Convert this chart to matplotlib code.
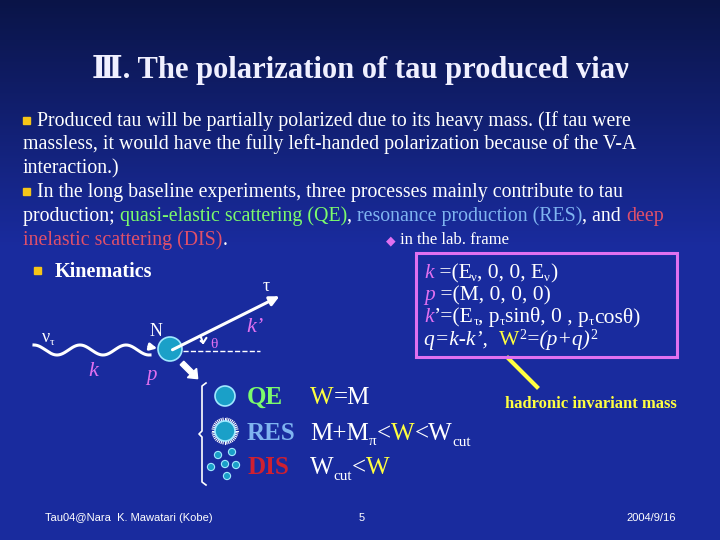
import matplotlib
matplotlib.use("Agg")
import matplotlib.pyplot as plt
import numpy as np
from matplotlib.patches import Circle, Rectangle, FancyArrow

plt.rcParams['font.family'] = ['Liberation Serif', 'DejaVu Serif']

W, H = 720, 540
fig = plt.figure(figsize=(7.2, 5.4), dpi=100)
ax = fig.add_axes([0, 0, 1, 1])
ax.set_xlim(0, W); ax.set_ylim(H, 0); ax.axis('off')

grad = np.linspace(0, 1, 256)[:, None]
top = np.array([0.04, 0.08, 0.28]); bot = np.array([0.10, 0.17, 0.62])
img = top + (bot - top) * np.clip(grad * 2.2, 0, 1)[:, :, None]
img = np.repeat(img, 2, axis=1)
ax.imshow(img, extent=[0, W, H, 0], aspect='auto', zorder=0)

r = fig.canvas.get_renderer()
WH = 'white'; GR = '#7CFC6C'; LB = '#7FB4F0'; RD = '#E0506A'; YL = '#FFFF40'; MG = '#E070F0'

def seq(x, y, segs, size, weight='normal'):
    for s in segs:
        txt, col = s[0], s[1]
        fs = s[2] if len(s) > 2 else 1.0
        dy = s[3] if len(s) > 3 else 0
        st = s[4] if len(s) > 4 else 'normal'
        t = ax.text(x, y + dy, txt, color=col, fontsize=size * fs, va='baseline',
                    ha='left', weight=weight, style=st, zorder=5)
        x += t.get_window_extent(renderer=r).width
    return x

def bullet(x, y, col='#F5C518', s=7):
    ax.add_patch(Rectangle((x, y - s - 2), s, s, color=col, zorder=5))

ax.text(360, 78, 'Ⅲ. The polarization of tau produced via\u03bd', color='#F0F0FF',
        fontsize=22, weight='bold', ha='center', va='baseline', zorder=5)

fs = 14.3
bullet(23, 126)
seq(37, 126, [('Produced tau will be partially polarized due to its heavy mass. (If tau were', WH)], fs)
seq(23, 149, [('massless, it would have the fully left-handed polarization because of the V-A', WH)], fs)
seq(23, 173, [('interaction.)', WH)], fs)
bullet(23, 197)
seq(37, 197, [('In the long baseline experiments, three processes mainly contribute to tau', WH)], fs)
seq(23, 221, [('production; ', WH), ('quasi-elastic scattering (QE)', GR), (', ', WH),
              ('resonance production (RES)', LB), (', and ', WH), ('deep', RD)], fs)
seq(23, 245, [('inelastic scattering (DIS)', RD), ('.', WH)], fs)
ax.text(386, 244, '\u25c6', color=MG, fontsize=9, va='baseline', family='DejaVu Sans', zorder=5)
seq(400, 244, [('in the lab. frame', WH)], 12)

bullet(34, 276)
seq(55, 277, [('Kinematics', WH)], 14.5, weight='bold')

ax.add_patch(Rectangle((416, 253), 261, 104, fill=False, ec=MG, lw=2.2, zorder=4))
fb = 15.5
seq(424, 278, [('k', MG, 1, 0, 'italic'), (' =(E', WH), ('\u03bd', WH, .6, 3), (', 0, 0, E', WH), ('\u03bd', WH, .6, 3), (')', WH)], fb)
seq(424, 300, [('p', MG, 1, 0, 'italic'), (' =(M, 0, 0, 0)', WH)], fb)
seq(424, 322, [('k', MG, 1, 0, 'italic'), ('\u2019=(E', WH), ('\u03c4', WH, .6, 3), (', p', WH), ('\u03c4', WH, .6, 3),
               ('sin\u03b8, 0 , p', WH), ('\u03c4', WH, .6, 3), ('cos\u03b8)', WH)], fb)
seq(424, 345, [('q=k-k\u2019,  ', WH, 1, 0, 'italic'), ('W', YL), ('2', WH, .65, -6), ('=(p+q)', WH, 1, 0, 'italic'), ('2', WH, .65, -6)], fb)

xs = np.linspace(34, 150, 300)
ys = 350 - 5 * np.cos((xs - 34) / 46.0 * 2 * np.pi)
ax.plot(xs, ys, color=WH, lw=2.2, zorder=5)
ax.annotate('', xy=(160, 349), xytext=(146, 346),
            arrowprops=dict(arrowstyle='-|>', color=WH, lw=2), zorder=5)
ax.add_patch(Circle((170, 349), 12, fc='#1AA0C8', ec='#A0E8FF', lw=1.2, zorder=5))
ax.plot([183, 260], [351, 351], color=WH, lw=1, ls='--', zorder=5)
ax.annotate('', xy=(282, 295), xytext=(170, 351),
            arrowprops=dict(arrowstyle='-|>', color=WH, lw=2.2, mutation_scale=14), zorder=6)
ax.text(42, 342, '\u03bd', color=WH, fontsize=13, zorder=5)
ax.text(50, 345, '\u03c4', color=WH, fontsize=8, zorder=5)
ax.text(150, 336, 'N', color=WH, fontsize=13, zorder=5)
ax.text(263, 291, '\u03c4', color=WH, fontsize=13, zorder=5)
ax.text(246, 332, 'k\u2019', color=MG, fontsize=16, style='italic', zorder=5)
ax.text(88, 376, 'k', color=MG, fontsize=16, style='italic', zorder=5)
ax.text(146, 380, 'p', color=MG, fontsize=15, style='italic', zorder=5)
ax.text(210, 348, '\u03b8', color=MG, fontsize=11, zorder=5)
ax.annotate('', xy=(202, 348), xytext=(198, 340),
            arrowprops=dict(arrowstyle='->', color=WH, lw=1.5, connectionstyle='arc3,rad=-0.6'), zorder=5)
ax.add_patch(FancyArrow(182, 363, 10, 10, width=5, head_width=13, head_length=8, color=WH, zorder=5))

bx = 202
ax.plot([bx + 4, bx, bx, bx - 3, bx, bx, bx + 4],
        [383, 386, 431, 434, 437, 482, 485], color=WH, lw=1.2, zorder=5)

ax.add_patch(Circle((225, 396), 10, fc='#1AA0C8', ec='#A0E8FF', lw=1.2, zorder=5))
for a in np.linspace(0, 2 * np.pi, 40, endpoint=False):
    ax.plot([225 + 10 * np.cos(a), 225 + 13 * np.cos(a)], [431 + 10 * np.sin(a), 431 + 13 * np.sin(a)], color=WH, lw=0.8, zorder=5)
ax.add_patch(Circle((225, 431), 10, fc='#1AA0C8', ec='#A0E8FF', lw=1.2, zorder=6))
for (cx, cy) in [(218, 455), (232, 452), (211, 467), (225, 464), (236, 465), (227, 476)]:
    ax.add_patch(Circle((cx, cy), 3.6, fc='#1AA0C8', ec='#A0E8FF', lw=0.8, zorder=5))

fp = 18
seq(247, 404, [('QE', GR)], fp, weight='bold')
seq(247, 440, [('RES', LB)], fp, weight='bold')
seq(247, 474, [('DIS', '#D02030')], fp, weight='bold')
seq(310, 404, [('W', YL), ('=M', WH)], fp)
seq(310, 440, [('M+M', WH), ('\u03c0', WH, .6, 5), ('<', WH), ('W', YL), ('<W', WH), ('cut', WH, .6, 6)], fp)
seq(310, 474, [('W', WH), ('cut', WH, .6, 6), ('<', WH), ('W', YL)], fp)

ax.plot([508, 537], [358, 387], color=YL, lw=3, zorder=3)
ax.text(505, 408, 'hadronic invariant mass', color=YL, fontsize=12, weight='bold', zorder=5)

ax.text(45, 521, 'Tau04@Nara  K. Mawatari (Kobe)', color=WH, fontsize=8, family='Liberation Sans', zorder=5)
ax.text(362, 521, '5', color=WH, fontsize=8, ha='center', family='Liberation Sans', zorder=5)
ax.text(676, 521, '2004/9/16', color=WH, fontsize=8, ha='right', family='Liberation Sans', zorder=5)

fig.savefig('out.png', dpi=100)
